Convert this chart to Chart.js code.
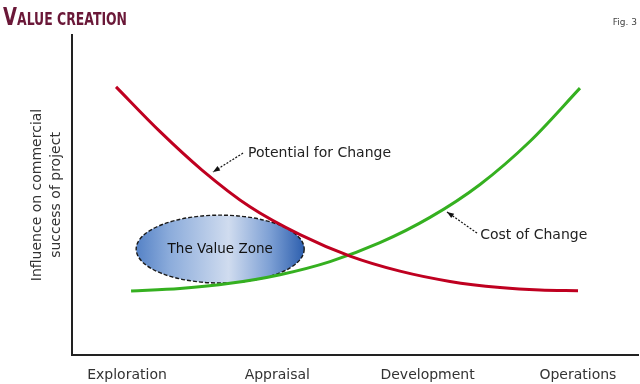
<!DOCTYPE html>
<html><head><meta charset="utf-8">
<script src="https://cdn.jsdelivr.net/npm/chart.js@4.4.1/dist/chart.umd.min.js"></script>
<style>html,body{margin:0;padding:0;background:#fff;}#wrap{position:relative;width:640px;height:384px;}</style>
</head><body><div id="wrap"><canvas id="c" width="640" height="384"></canvas></div>
<script>
// ---- data ----
const stages = ['Exploration', 'Appraisal', 'Development', 'Operations'];
const stagePos = [0, 1, 2, 3];
const potentialX = [-0.073, 0.220, 0.499, 0.818, 1.151, 1.484, 1.816, 2.149, 2.482, 2.748, 3.001];
const potentialY = [83.8, 69.8, 57.8, 46.3, 37.6, 30.9, 26.2, 23.0, 21.1, 20.3, 20.1];
const costX = [0.027, 0.353, 0.685, 1.018, 1.351, 1.683, 2.016, 2.349, 2.682, 3.014];
const costY = [20.0, 20.8, 22.4, 25.1, 29.2, 35.1, 43.0, 53.3, 66.8, 83.4];
const yTitle = ['Influence on commercial', 'success of project'];
const titleFirst = 'V';
const titleRest = 'ALUE CREATION';
const figLabel = 'Fig. 3';
const zoneLabel = 'The Value Zone';
const potentialLabel = 'Potential for Change';
const costLabel = 'Cost of Change';

const FONT = '"DejaVu Sans", sans-serif';

function arrow(ctx, x0, y0, x1, y1) {
  ctx.save();
  ctx.strokeStyle = '#111';
  ctx.lineWidth = 1.2;
  ctx.setLineDash([2, 1.5]);
  ctx.beginPath(); ctx.moveTo(x0, y0); ctx.lineTo(x1, y1); ctx.stroke();
  ctx.setLineDash([]);
  const a = Math.atan2(y1 - y0, x1 - x0);
  const L = 7, W = 2.6;
  ctx.fillStyle = '#111';
  ctx.beginPath();
  ctx.moveTo(x1, y1);
  ctx.lineTo(x1 - L * Math.cos(a) + W * Math.sin(a), y1 - L * Math.sin(a) - W * Math.cos(a));
  ctx.lineTo(x1 - L * Math.cos(a) - W * Math.sin(a), y1 - L * Math.sin(a) + W * Math.cos(a));
  ctx.closePath(); ctx.fill();
  ctx.restore();
}

const decor = {
  id: 'decor',
  beforeDatasetsDraw(chart) {
    const {ctx, scales: {x, y}} = chart;
    const cx = x.getPixelForValue(0.62), cy = y.getPixelForValue(33.1);
    const rx = x.getPixelForValue(0.62 + 0.559) - cx;
    const ry = cy - y.getPixelForValue(33.1 + 10.6);
    ctx.save();
    const g = ctx.createLinearGradient(cx - rx, 0, cx + rx, 0);
    g.addColorStop(0, '#5582c6');
    g.addColorStop(0.2, '#8cacdb');
    g.addColorStop(0.55, '#d0dcef');
    g.addColorStop(0.8, '#7c9fd4');
    g.addColorStop(1, '#2d5fae');
    ctx.beginPath(); ctx.ellipse(cx, cy, rx, ry, 0, 0, Math.PI * 2);
    ctx.fillStyle = g; ctx.fill();
    ctx.setLineDash([4, 2]); ctx.lineWidth = 1.4; ctx.strokeStyle = '#1a1a1a'; ctx.stroke();
    ctx.setLineDash([]);
    ctx.font = '13.5px ' + FONT; ctx.fillStyle = '#111';
    ctx.textAlign = 'center'; ctx.textBaseline = 'middle';
    ctx.fillText(zoneLabel, cx, cy);
    ctx.restore();
  },
  afterDraw(chart) {
    const {ctx, scales: {x, y}} = chart;
    ctx.save();
    // title
    ctx.fillStyle = '#6a1838';
    ctx.textBaseline = 'alphabetic'; ctx.textAlign = 'left';
    ctx.font = 'bold 25px ' + FONT;
    let w = ctx.measureText(titleFirst).width;
    ctx.save(); ctx.translate(3, 25); ctx.scale(14 / w, 1); ctx.fillText(titleFirst, 0, 0); ctx.restore();
    ctx.font = 'bold 18px ' + FONT;
    w = ctx.measureText(titleRest).width;
    ctx.save(); ctx.translate(17, 25); ctx.scale(110 / w, 1); ctx.fillText(titleRest, 0, 0); ctx.restore();
    // fig label
    ctx.fillStyle = '#444'; ctx.font = '9px ' + FONT; ctx.textAlign = 'right';
    ctx.fillText(figLabel, 637, 25);
    // annotations
    ctx.fillStyle = '#222'; ctx.font = '14px ' + FONT; ctx.textAlign = 'left'; ctx.textBaseline = 'middle';
    ctx.fillText(potentialLabel, x.getPixelForValue(0.805), y.getPixelForValue(63.1));
    arrow(ctx, x.getPixelForValue(0.772), y.getPixelForValue(63.1), x.getPixelForValue(0.572), y.getPixelForValue(57.2));
    ctx.fillStyle = '#222'; ctx.font = '14px ' + FONT; ctx.textAlign = 'left'; ctx.textBaseline = 'middle';
    ctx.fillText(costLabel, x.getPixelForValue(2.35), y.getPixelForValue(37.5));
    arrow(ctx, x.getPixelForValue(2.329), y.getPixelForValue(38.1), x.getPixelForValue(2.129), y.getPixelForValue(44.7));
    ctx.restore();
  }
};

new Chart(document.getElementById('c'), {
  type: 'line',
  data: {
    datasets: [
      {
        label: potentialLabel,
        data: potentialX.map((v, i) => ({x: v, y: potentialY[i]})),
        borderColor: '#bf0020', borderWidth: 3, pointRadius: 0,
        cubicInterpolationMode: 'monotone', fill: false
      },
      {
        label: costLabel,
        data: costX.map((v, i) => ({x: v, y: costY[i]})),
        borderColor: '#35b020', borderWidth: 3, pointRadius: 0,
        cubicInterpolationMode: 'monotone', fill: false
      }
    ]
  },
  options: {
    responsive: false, animation: false, devicePixelRatio: 1,
    layout: {padding: {top: 35, right: 2, left: 0, bottom: 0}},
    plugins: {legend: {display: false}, tooltip: {enabled: false}},
    scales: {
      x: {
        type: 'linear', min: -0.366, max: 3.4,
        afterBuildTicks: s => { s.ticks = stagePos.map(v => ({value: v})); },
        afterFit: s => { s.height = 29; },
        ticks: {
          callback: (v, i) => stages[i], autoSkip: false, maxRotation: 0,
          font: {family: FONT, size: 14}, color: '#333', padding: 12
        },
        grid: {display: false, drawTicks: false},
        border: {display: true, color: '#222', width: 2}
      },
      y: {
        type: 'linear', min: 0, max: 100,
        afterFit: s => { s.width = 72; },
        ticks: {display: false},
        grid: {display: false, drawTicks: false},
        border: {display: true, color: '#222', width: 2},
        title: {
          display: true, text: yTitle, color: '#333',
          font: {family: FONT, size: 14, lineHeight: 1.36},
          padding: {top: 28, bottom: 0}
        }
      }
    }
  },
  plugins: [decor]
});
</script></body></html>
